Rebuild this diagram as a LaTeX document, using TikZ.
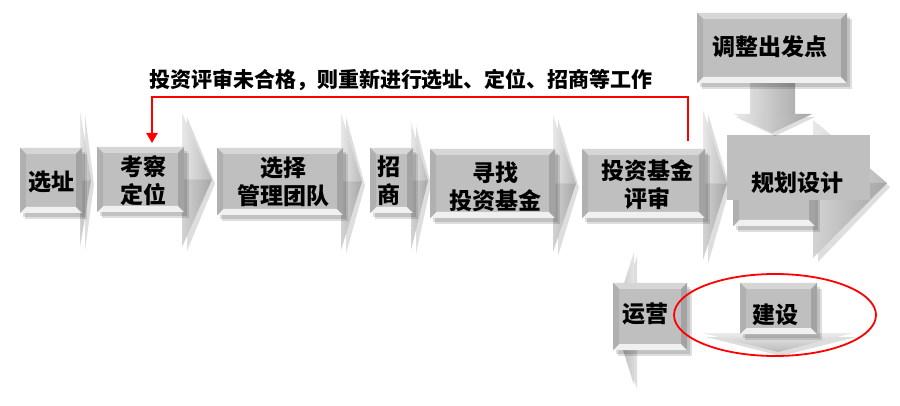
\documentclass[tikz,border=0pt]{standalone}
\usepackage{fontspec}
\setmainfont{Noto Sans CJK SC}
\usetikzlibrary{calc,arrows.meta}
\tikzset{
  lbl/.style={font=\bfseries\fontsize{23}{28}\selectfont, align=center, inner sep=0pt, text=black},
  toplbl/.style={font=\bfseries\fontsize{21}{25}\selectfont, inner sep=0pt, text=black},
  shd/.style={fill=black, opacity=0.13},
  face/.style={fill=gray!50},
  bvtop/.style={fill=gray!32},
  bvbot/.style={fill=gray!12},
  bvleft/.style={fill=gray!62},
  bvright/.style={fill=gray!72},
  redline/.style={draw=red, line width=2.6pt, -{Triangle[length=10pt,width=11pt]}},
  redring/.style={draw=red, line width=1.8pt},
}
% bevelled box: x1 y1 x2 y2
\newcommand\BevelBox[4]{%
  \fill[shd] (#1+3,#2+4) rectangle (#3+3,#4+4);
  \fill[shd] (#1+5,#2+6) rectangle (#3+5,#4+6);
  \fill[face] (#1,#2) rectangle (#3,#4);
  \fill[bvtop] (#1,#2) -- (#3,#2) -- (#3-6,#2+6) -- (#1+6,#2+6) -- cycle;
  \fill[bvbot] (#1,#4) -- (#3,#4) -- (#3-6,#4-6) -- (#1+6,#4-6) -- cycle;
  \fill[bvleft] (#1,#2) -- (#1+6,#2+6) -- (#1+6,#4-6) -- (#1,#4) -- cycle;
  \fill[bvright] (#3,#2) -- (#3-6,#2+6) -- (#3-6,#4-6) -- (#3,#4) -- cycle;
}
% right arrow: x1 y1 x2 y2 headtop headbottom tipx
\newcommand\RArr[7]{%
  \fill[shd] (#3+3,#5+4) -- (#7+3,{(#2+#4)/2+4}) -- (#3+3,#6+4) -- cycle;
  \shade[left color=gray!18, right color=gray!55] (#3-2,#5) -- (#7,{(#2+#4)/2}) -- (#3-2,{(#2+#4)/2}) -- cycle;
  \shade[left color=gray!35, right color=gray!70] (#3-2,{(#2+#4)/2}) -- (#7,{(#2+#4)/2}) -- (#3-2,#6) -- cycle;
  \BevelBox{#1}{#2}{#3}{#4}
}
\begin{document}
\begin{tikzpicture}[x=1pt,y=-1pt]
\useasboundingbox (0,0) rectangle (900,406);
\fill[white] (0,0) rectangle (900,406);

% main row
\RArr{20}{148}{82}{213}{110}{247}{91}
\RArr{97}{147}{184}{212}{113}{247}{212}
\RArr{217}{148}{343}{215}{113}{250}{362}
\RArr{370}{148}{413}{213}{122}{250}{428}
\RArr{430}{149}{555}{218}{115}{252}{576}
\RArr{582}{149}{705}{218}{110}{260}{727}

% plan & design arrow with flat label panel
\RArr{733}{140}{815}{226}{120}{258}{887}
\fill[face] (727,135) rectangle (870,200);

% down arrow: adjust starting point
\shade[left color=gray!28, right color=gray!62] (750,80) rectangle (795,116);
\fill[shd] (736,117) -- (815,117) -- (775,136) -- cycle;
\shade[left color=gray!15, right color=gray!45] (733,114) -- (772,114) -- (772,133) -- cycle;
\shade[left color=gray!45, right color=gray!70] (772,114) -- (812,114) -- (772,133) -- cycle;
\BevelBox{697}{13}{847}{83}

% left arrow: operation
\fill[shd] (637,256) -- (616,322) -- (637,389) -- cycle;
\shade[left color=gray!55, right color=gray!20] (634,252) -- (613,318) -- (634,318) -- cycle;
\shade[left color=gray!65, right color=gray!30] (634,318) -- (613,318) -- (634,385) -- cycle;
\BevelBox{613}{283}{687}{350}

% down arrow: construction
\fill[shd] (706,337) -- (856,337) -- (781,356) -- cycle;
\shade[top color=gray!15, bottom color=gray!55] (703,333) -- (853,333) -- (778,352) -- cycle;
\BevelBox{740}{283}{817}{334}

% labels
\node[lbl] (n1) at (51,182) {选址};
\node[lbl] (n2) at (143,181) {考察\\定位};
\node[lbl] (n3) at (283,182) {选择\\管理团队};
\node[lbl] (n4) at (389,181) {招\\商};
\node[lbl] (n5) at (495,187) {寻找\\投资基金};
\node[lbl] (n6) at (647,185) {投资基金\\评审};
\node[lbl] (n7) at (797,183) {规划设计};
\node[lbl] (n8) at (770,47) {调整出发点};
\node[lbl] (n9) at (645,314) {运营};
\node[lbl] (n10) at (775,315) {建设};

% feedback connector
\node[toplbl] (fbl) at (401,80) {投资评审未合格，则重新进行选址、定位、招商等工作};
\coordinate (fbS) at (688,141);
\coordinate (fbE) at (152,143);
\draw[redline] (fbS) |- ($(fbE)+(0,-46)$) -- (fbE);

% highlight ring
\draw[redring] (n10) ellipse [x radius=101pt, y radius=41pt];
\end{tikzpicture}
\end{document}
